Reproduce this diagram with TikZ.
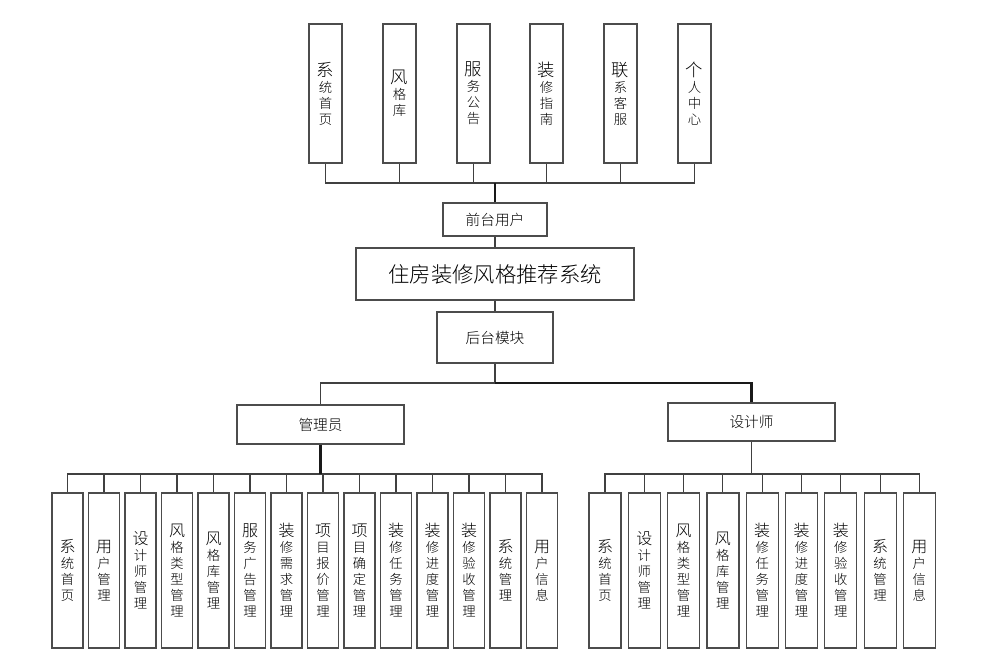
\documentclass[tikz,border=0pt]{standalone}
\usepackage{fontspec}
\setmainfont{Noto Sans CJK SC}[UprightFont=* Light]
\begin{document}
\begin{tikzpicture}[x=0.75pt,y=-0.75pt,
  bx/.style={draw=black!70,line width=0.9pt,fill=white,inner sep=0pt,align=center},
  ln/.style={draw=black!75,line width=0.8pt},
  tk/.style={draw=black!90,line width=1.6pt}]
\useasboundingbox (0,0) rectangle (985,670);
\newcommand\mkbox[6]{\node[bx,minimum width={(#4-#2)*0.75pt},minimum height={(#5-#3)*0.75pt}] (#1) at ({(#2+#4)/2},{(#3+#5)/2}) {#6};}
% top
\def\topfont{\fontsize{13}{18}\selectfont}
\mkbox{t1}{309}{24}{342}{163}{\topfont 系\\统\\首\\页}
\mkbox{t2}{383}{24}{416}{163}{\topfont 风\\格\\库}
\mkbox{t3}{457}{24}{490}{163}{\topfont 服\\务\\公\\告}
\mkbox{t4}{530}{24}{563}{163}{\topfont 装\\修\\指\\南}
\mkbox{t5}{604}{24}{637}{163}{\topfont 联\\系\\客\\服}
\mkbox{t6}{678}{24}{711}{163}{\topfont 个\\人\\中\\心}
\mkbox{fu}{443}{203}{547}{236}{\fontsize{11}{13}\selectfont 前台用户}
\mkbox{main}{356}{248}{634}{300}{\fontsize{16}{18}\selectfont 住房装修风格推荐系统}
\mkbox{bm}{437}{312}{553}{363}{\fontsize{11}{13}\selectfont 后台模块}
\mkbox{adm}{237}{405}{404}{444}{\fontsize{11}{13}\selectfont 管理员}
\mkbox{des}{668}{403}{835}{441}{\fontsize{11}{13}\selectfont 设计师}
\coordinate (b1) at (0,183);
\coordinate (b2) at (0,383);
\coordinate (b3) at (0,474);
\foreach \i in {1,...,6}{\draw[ln] (t\i.south) -- (t\i.south |- b1) -- (fu.north |- b1);}
\draw[tk] (fu.north) -- (fu.north |- b1);
\draw[ln] (fu.south) -- (main.north);
\draw[ln] (main.south) -- (bm.north);
\draw[ln] (bm.south) -- (bm.south |- b2);
\draw[ln] (adm.north) -- (adm.north |- b2) -- (bm.south |- b2);
\draw[tk] (des.north) -- (des.north |- b2) -- (bm.south |- b2);
% admin children
\def\lf{\fontsize{12}{16.5}\selectfont}
\foreach \t [count=\i from 0] in {系\\统\\首\\页,用\\户\\管\\理,设\\计\\师\\管\\理,风\\格\\类\\型\\管\\理,风\\格\\库\\管\\理,服\\务\\广\\告\\管\\理,装\\修\\需\\求\\管\\理,项\\目\\报\\价\\管\\理,项\\目\\确\\定\\管\\理,装\\修\\任\\务\\管\\理,装\\修\\进\\度\\管\\理,装\\修\\验\\收\\管\\理,系\\统\\管\\理,用\\户\\信\\息}{
  \pgfmathsetmacro\xa{52+36.5*\i}\pgfmathsetmacro\xb{\xa+31}
  \mkbox{a\i}{\xa}{493}{\xb}{648}{\lf\t}
  \draw[ln] (a\i.north) -- (a\i.north |- b3) -- (adm.south |- b3);
}
\draw[tk] (adm.south) -- (adm.south |- b3);
\foreach \t [count=\i from 0] in {系\\统\\首\\页,设\\计\\师\\管\\理,风\\格\\类\\型\\管\\理,风\\格\\库\\管\\理,装\\修\\任\\务\\管\\理,装\\修\\进\\度\\管\\理,装\\修\\验\\收\\管\\理,系\\统\\管\\理,用\\户\\信\\息}{
  \pgfmathsetmacro\xa{589+39.3*\i}\pgfmathsetmacro\xb{\xa+32}
  \mkbox{d\i}{\xa}{493}{\xb}{648}{\lf\t}
  \draw[ln] (d\i.north) -- (d\i.north |- b3) -- (des.south |- b3);
}
\draw[ln] (des.south) -- (des.south |- b3);
\end{tikzpicture}
\end{document}
